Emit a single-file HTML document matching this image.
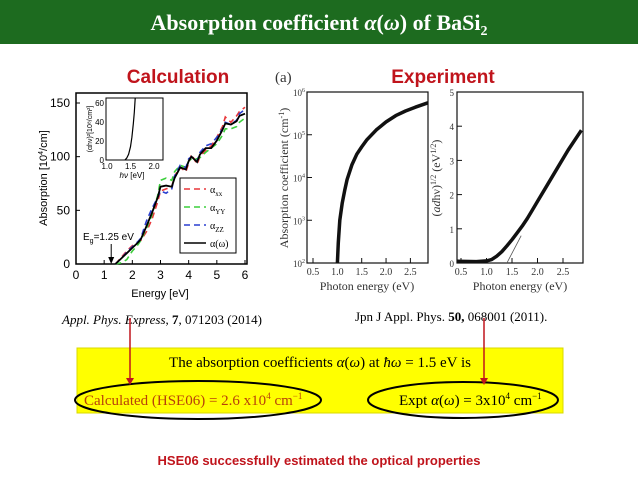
<!DOCTYPE html>
<html><head><meta charset="utf-8"><style>
body{margin:0;width:638px;height:478px;overflow:hidden;background:#fff;font-family:"Liberation Sans",sans-serif;}
svg{position:absolute;left:0;top:0;}
</style></head><body>
<svg id="s" width="638" height="478" viewBox="0 0 638 478" xmlns="http://www.w3.org/2000/svg">
<rect x="0" y="0" width="638" height="44" fill="#1d6b1f"/>
<text x="319" y="30" text-anchor="middle" fill="#fff" font-family="Liberation Serif,serif" font-weight="bold" font-size="22">Absorption coefficient <tspan font-style="italic">α</tspan>(<tspan font-style="italic">ω</tspan>) of BaSi<tspan font-size="14" dy="5">2</tspan></text>
<text x="178" y="83" text-anchor="middle" fill="#c0141c" font-weight="bold" font-size="19">Calculation</text>
<text x="443" y="83" text-anchor="middle" fill="#c0141c" font-weight="bold" font-size="19">Experiment</text>
<text x="275" y="82" font-family="Liberation Serif,serif" font-size="15" fill="#333">(a)</text>
<g id="calc"></g>
<g id="exp1"></g>
<g id="exp2"></g>
<text x="62" y="324" font-family="Liberation Serif,serif" font-size="13"><tspan font-style="italic">Appl. Phys. Express</tspan>, <tspan font-weight="bold">7</tspan>, 071203 (2014)</text>
<text x="355" y="321" font-family="Liberation Serif,serif" font-size="13">Jpn J Appl. Phys. <tspan font-weight="bold">50,</tspan> 068001 (2011).</text>
<rect x="77" y="348" width="486" height="65" fill="#ffff00" stroke="#d8d800"/>
<text x="320" y="367" text-anchor="middle" font-family="Liberation Serif,serif" font-size="15">The absorption coefficients <tspan font-style="italic">α</tspan>(<tspan font-style="italic">ω</tspan>) at <tspan font-style="italic">ħω</tspan> = 1.5 eV is</text>
<text x="84" y="405" font-family="Liberation Serif,serif" font-size="15" fill="#b8400a">Calculated (HSE06) = 2.6 x10<tspan font-size="9" dy="-6">4</tspan><tspan dy="6"> cm</tspan><tspan font-size="9" dy="-6">−1</tspan></text>
<text x="399" y="405" font-family="Liberation Serif,serif" font-size="15">Expt <tspan font-style="italic">α</tspan>(<tspan font-style="italic">ω</tspan>) = 3x10<tspan font-size="9" dy="-6">4</tspan><tspan dy="6"> cm</tspan><tspan font-size="9" dy="-6">−1</tspan></text>
<ellipse cx="198" cy="400" rx="123" ry="19" fill="none" stroke="#000" stroke-width="2"/>
<ellipse cx="463" cy="400" rx="95" ry="18" fill="none" stroke="#000" stroke-width="2"/>
<line x1="130" y1="318" x2="130" y2="380" stroke="#c0141c" stroke-width="1.5"/>
<polygon points="126,378 134,378 130,385" fill="#c0141c"/>
<line x1="484" y1="318" x2="484" y2="380" stroke="#c0141c" stroke-width="1.5"/>
<polygon points="480,378 488,378 484,385" fill="#c0141c"/>
<text x="319" y="465" text-anchor="middle" fill="#c0141c" font-weight="bold" font-size="13">HSE06 successfully estimated the optical properties</text>
</svg>
<script>
var NS="http://www.w3.org/2000/svg";
// Calculation chart data
var calcE=[1.4,1.6,1.8,2.0,2.2,2.3,2.5,2.7,2.9,3.0,3.2,3.4,3.5,3.7,3.9,4.0,4.1,4.3,4.4,4.6,4.8,5.0,5.2,5.3,5.5,5.7,5.8,6.0];
var alphaTot=[0,5,10,15,20,23,35,48,62,72,73,72,80,90,88,96,100,95,102,108,108,115,125,131,130,133,138,140];
var alphaXX=[0,6,12,17,20,22,30,42,58,68,70,72,82,90,86,94,102,93,100,106,110,118,128,137,132,138,142,146];
var alphaYY=[0,1,4,12,18,22,33,46,64,78,80,78,86,92,90,96,98,98,99,104,108,112,120,126,126,128,132,136];
var alphaZZ=[0,5,11,16,21,24,40,52,62,68,66,70,82,92,90,98,100,96,104,110,112,118,126,132,130,134,140,144];
var calcXTicks=[0,1,2,3,4,5,6];
var calcYTicks=[0,50,100,150];
var insetE=[1.38,1.42,1.46,1.5,1.53,1.56,1.58,1.6];
var insetV=[0,2,6,14,24,38,50,65];
// Experiment data
var expE=[1.0,1.02,1.05,1.1,1.15,1.2,1.3,1.4,1.5,1.6,1.8,2.0,2.2,2.4,2.6,2.86];
var expAlpha=[100,300,1000,2500,5000,9000,20000,35000,52000,75000,130000,200000,280000,360000,440000,560000];
var logXTicks=[0.5,1.0,1.5,2.0,2.5];
var logYExps=[2,3,4,5,6];
var taucE=[0.42,0.8,1.0,1.1,1.2,1.3,1.4,1.5,1.6,1.7,1.8,1.9,2.0,2.2,2.4,2.6,2.8,2.86];
var taucV=[0.05,0.04,0.06,0.1,0.2,0.33,0.5,0.68,0.88,1.08,1.3,1.55,1.8,2.3,2.8,3.3,3.75,3.88];
var taucYTicks=[0,1,2,3,4,5];

function el(p,t,a){var e=document.createElementNS(NS,t);for(var k in a)e.setAttribute(k,a[k]);p.appendChild(e);return e;}
function txt(p,x,y,s,a){var e=el(p,"text",a);e.setAttribute("x",x);e.setAttribute("y",y);e.textContent=s;return e;}
function path(xs,ys,fx,fy){var d="";for(var i=0;i<xs.length;i++)d+=(i?"L":"M")+fx(xs[i]).toFixed(1)+","+fy(ys[i]).toFixed(1);return d;}

// ---- calculation chart
var g=document.getElementById("calc");
var cx=function(v){return 76+v*(169/6);}, cy=function(v){return 264-v*(161/150);};
var fr=el(g,"rect",{x:76,y:93,width:171,height:171,fill:"none",stroke:"#000","stroke-width":1.5});

calcXTicks.forEach(function(v){
 el(g,"line",{x1:cx(v),x2:cx(v),y1:264,y2:260,stroke:"#000"});
 var t=txt(g,cx(v),279,v,{"text-anchor":"middle","font-size":12});
 
});
calcYTicks.forEach(function(v){
 el(g,"line",{x1:76,x2:80,y1:cy(v),y2:cy(v),stroke:"#000"});
 var t=txt(g,70,cy(v)+4,v,{"text-anchor":"end","font-size":12});
 
});
var xt=txt(g,160,297,"Energy [eV]",{"text-anchor":"middle","font-size":11});

var yt=el(g,"text",{x:0,y:0,"text-anchor":"middle","font-size":11,transform:"translate(47,178) rotate(-90)"});
yt.innerHTML='Absorption [10<tspan font-size="7" dy="-4">4</tspan><tspan dy="4">/cm]</tspan>';

[[alphaXX,"#e8363a","alpha-xx-line"],[alphaYY,"#3ccf3c","alpha-yy-line"],[alphaZZ,"#2a3fd0","alpha-zz-line"]].forEach(function(s){
 var p=el(g,"path",{d:path(calcE,s[0],cx,cy),fill:"none",stroke:s[1],"stroke-width":1.6,"stroke-dasharray":"6,4"});
 
});
var pb=el(g,"path",{d:path(calcE,alphaTot,cx,cy),fill:"none",stroke:"#000","stroke-width":1.8});

var lg=el(g,"rect",{x:180,y:178,width:56,height:75,fill:"#fff",stroke:"#000"});

[["#e8363a","xx",1],["#3ccf3c","YY",1],["#2a3fd0","ZZ",1],["#000","",0]].forEach(function(s,i){
 var y=189+i*18;
 el(g,"line",{x1:184,x2:206,y1:y,y2:y,stroke:s[0],"stroke-width":1.6,"stroke-dasharray":s[2]?"6,4":"none"});
 var t=el(g,"text",{x:210,y:y+4,"font-size":10,"font-family":"Liberation Serif,serif"});
 t.innerHTML=s[1]?'α<tspan font-size="7" dy="3">'+s[1]+'</tspan>':'α(ω)';
 
});
var eg=el(g,"text",{x:83,y:240,"font-size":10});eg.innerHTML='E<tspan font-size="7" dy="3">g</tspan><tspan dy="-3">=1.25 eV</tspan>';

el(g,"line",{x1:cx(1.25),x2:cx(1.25),y1:244,y2:258,stroke:"#000"});
el(g,"polygon",{points:(cx(1.25)-3)+",257 "+(cx(1.25)+3)+",257 "+cx(1.25)+",264",fill:"#000"});
var ix=function(v){return 107+(v-1)*47;}, iy=function(v){return 160-v*(57/60);};
var ir=el(g,"rect",{x:106,y:98,width:57,height:62,fill:"#fff",stroke:"#000"});

[1.0,1.5,2.0].forEach(function(v){var t=txt(g,ix(v),169,v.toFixed(1),{"text-anchor":"middle","font-size":8});});
[0,20,40,60].forEach(function(v){var t=txt(g,104,iy(v)+3,v,{"text-anchor":"end","font-size":8});});
var ixl=el(g,"text",{x:132,y:178,"text-anchor":"middle","font-size":8});ixl.innerHTML='<tspan font-style="italic">hν</tspan> [eV]';

var iyl=el(g,"text",{x:0,y:0,"text-anchor":"middle","font-size":7,transform:"translate(92,129) rotate(-90)"});iyl.textContent='(αhν)²[10⁸/cm²]';

var ip=el(g,"path",{d:path(insetE,insetV,ix,iy),fill:"none",stroke:"#000","stroke-width":1.2});


// ---- experiment log chart
var g1=document.getElementById("exp1");
var ex=function(v){return 313+(v-0.5)*48.7;}, ey=function(v){return 263-(Math.log10(v)-2)*42.75;};
var f1=el(g1,"rect",{x:307,y:92,width:121,height:171,fill:"none",stroke:"#111","stroke-width":1.2});

logXTicks.forEach(function(v){
 el(g1,"line",{x1:ex(v),x2:ex(v),y1:263,y2:258,stroke:"#111"});
 var t=txt(g1,ex(v),275,v.toFixed(1),{"text-anchor":"middle","font-size":10,"font-family":"Liberation Serif,serif",fill:"#333"});
 
});
logYExps.forEach(function(v){
 var y=263-(v-2)*42.75;
 el(g1,"line",{x1:307,x2:312,y1:y,y2:y,stroke:"#111"});
 var t=el(g1,"text",{x:305,y:y+4,"text-anchor":"end","font-size":9,"font-family":"Liberation Serif,serif",fill:"#333"});
 t.innerHTML='10<tspan font-size="6" dy="-4">'+v+'</tspan>';
 
});
var lx=txt(g1,367,290,"Photon energy (eV)",{"text-anchor":"middle","font-size":12,"font-family":"Liberation Serif,serif",fill:"#333"});

var ly=el(g1,"text",{x:0,y:0,"text-anchor":"middle","font-size":12,"font-family":"Liberation Serif,serif",fill:"#333",transform:"translate(288,178) rotate(-90)"});
ly.innerHTML='Absorption coefficient (cm<tspan font-size="8" dy="-4">-1</tspan><tspan dy="4">)</tspan>';

var c1=el(g1,"path",{d:path(expE,expAlpha,ex,ey),fill:"none",stroke:"#111","stroke-width":3.5,"stroke-linejoin":"round"});


// ---- experiment tauc chart
var g2=document.getElementById("exp2");
var tx=function(v){return 461+(v-0.5)*51;}, ty=function(v){return 263-v*34.2;};
var f2=el(g2,"rect",{x:457,y:92,width:126,height:171,fill:"none",stroke:"#111","stroke-width":1.2});

logXTicks.forEach(function(v){
 el(g2,"line",{x1:tx(v),x2:tx(v),y1:263,y2:258,stroke:"#111"});
 var t=txt(g2,tx(v),275,v.toFixed(1),{"text-anchor":"middle","font-size":10,"font-family":"Liberation Serif,serif",fill:"#333"});
 
});
taucYTicks.forEach(function(v){
 el(g2,"line",{x1:457,x2:462,y1:ty(v),y2:ty(v),stroke:"#111"});
 var t=txt(g2,454,ty(v)+4,v,{"text-anchor":"end","font-size":9,"font-family":"Liberation Serif,serif",fill:"#333"});
 
});
var tx2=txt(g2,520,290,"Photon energy (eV)",{"text-anchor":"middle","font-size":12,"font-family":"Liberation Serif,serif",fill:"#333"});

var ty2=el(g2,"text",{x:0,y:0,"text-anchor":"middle","font-size":12,"font-family":"Liberation Serif,serif",fill:"#333",transform:"translate(440,178) rotate(-90)"});
ty2.innerHTML='(<tspan font-style="italic">ad</tspan>hν)<tspan font-size="8" dy="-4">1/2</tspan><tspan dy="4"> (eV</tspan><tspan font-size="8" dy="-4">1/2</tspan><tspan dy="4">)</tspan>';

var tl=el(g2,"line",{x1:tx(1.4),y1:ty(0),x2:tx(1.68),y2:ty(0.8),stroke:"#555","stroke-width":0.8});

var c2=el(g2,"path",{d:path(taucE,taucV,tx,ty),fill:"none",stroke:"#111","stroke-width":3.5,"stroke-linejoin":"round"});

</script>
</body></html>
